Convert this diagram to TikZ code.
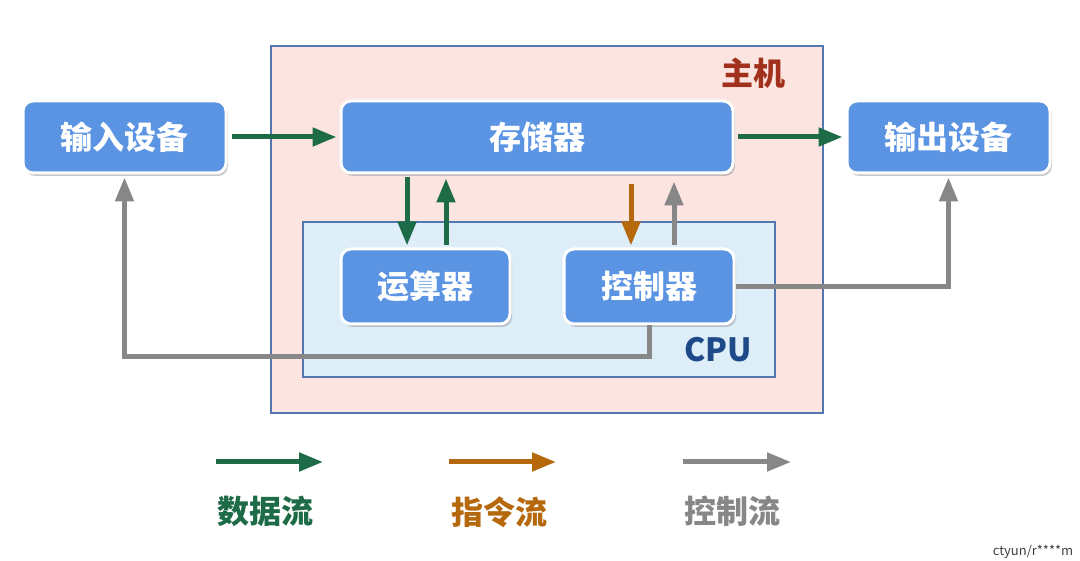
\documentclass[tikz,border=0pt]{standalone}
\usepackage{fontspec}
\newfontfamily\cjk{Noto Sans CJK SC}
\usetikzlibrary{arrows.meta,shadows}
\definecolor{boxblue}{HTML}{5B94E3}
\definecolor{hostfill}{HTML}{FCE5E0}
\definecolor{cpufill}{HTML}{DDEEF9}
\definecolor{frameline}{HTML}{5476B0}
\definecolor{dgreen}{HTML}{1D6B47}
\definecolor{dorange}{HTML}{B5680C}
\definecolor{dgray}{HTML}{878787}
\definecolor{hostred}{HTML}{A1301C}
\definecolor{cpublue}{HTML}{1F4A8A}
\tikzset{
  unitbox/.style={rectangle, rounded corners=10pt, fill=boxblue, draw=white, line width=3pt,
    drop shadow={shadow xshift=2pt, shadow yshift=-3pt, opacity=0.35, fill=black!60},
    text=white, font=\cjk\bfseries\fontsize{32}{34}\selectfont, inner sep=0pt},
  frame/.style={draw=frameline, line width=1.3pt},
  flow/.style={line width=5pt, -{Triangle[length=24pt,width=18pt]}},
  dataflow/.style={flow, draw=dgreen},
  instflow/.style={flow, draw=dorange},
  ctrlflow/.style={flow, draw=dgray},
  legendtext/.style={font=\cjk\bfseries\fontsize{32}{34}\selectfont},
}
\begin{document}
\begin{tikzpicture}[x=1pt,y=-1pt]
\useasboundingbox[fill=white] (0,0) rectangle (1080,561);
% frames
\node[frame, fill=hostfill, minimum width=552pt, minimum height=367pt, inner sep=0pt] (host) at (547,229.5) {};
\node[font=\cjk\bfseries\fontsize{32}{34}\selectfont, text=hostred] (hostlabel) at (753,73) {主机};
\node[frame, fill=cpufill, minimum width=472pt, minimum height=155pt, inner sep=0pt] (cpu) at (539,299.5) {};
\node[font=\cjk\bfseries\fontsize{32}{34}\selectfont, text=cpublue] (cpulabel) at (718,350) {CPU};
% units
\node[unitbox, minimum width=203pt, minimum height=72pt] (in) at (124.5,137) {输入设备};
\node[unitbox, minimum width=392pt, minimum height=72pt] (mem) at (537,137) {存储器};
\node[unitbox, minimum width=203pt, minimum height=72pt] (out) at (948.5,137) {输出设备};
\node[unitbox, minimum width=169pt, minimum height=75pt] (alu) at (425.5,286.5) {运算器};
\node[unitbox, minimum width=170pt, minimum height=75pt] (ctl) at (649,286.5) {控制器};
% helper coordinates
\coordinate (xa) at (407,0);
\coordinate (xb) at (446,0);
\coordinate (xc) at (631,0);
\coordinate (xd) at (674,0);
\coordinate (lowy) at (0,357);
% data flows
\draw[dataflow, shorten <=4pt, shorten >=3pt] (in.east) -- (mem.west);
\draw[dataflow, shorten <=3pt, shorten >=3pt] (mem.east) -- (out.west);
\draw[dataflow, shorten <=3pt, shorten >=2pt] (mem.south -| xa) -- (alu.north -| xa);
\draw[dataflow, shorten <=2pt, shorten >=4pt] (alu.north -| xb) -- (mem.south -| xb);
% instruction flow
\draw[instflow, shorten <=10pt, shorten >=2pt] (mem.south -| xc) -- (ctl.north -| xc);
% control flows
\draw[ctrlflow, shorten <=2pt, shorten >=7pt] (ctl.north -| xd) -- (mem.south -| xd);
\draw[ctrlflow, shorten >=3pt] (ctl.south) -- (ctl.south |- lowy) -| (in.south);
\draw[ctrlflow, shorten >=3pt] (ctl.east) -| (out.south);
% legend
\coordinate (la) at (216,462); \coordinate (lb) at (323,462);
\coordinate (lc) at (449,462); \coordinate (ld) at (556,462);
\coordinate (le) at (683,462); \coordinate (lf) at (791,462);
\draw[line width=5pt, draw=dgreen, -{Triangle[length=24pt,width=18pt]}] (la) -- (lb);
\draw[line width=5pt, draw=dorange, -{Triangle[length=24pt,width=18pt]}] (lc) -- (ld);
\draw[line width=5pt, draw=dgray, -{Triangle[length=24pt,width=18pt]}] (le) -- (lf);
\node[legendtext, text=dgreen] (t1) at (265,511) {数据流};
\node[legendtext, text=dorange] (t2) at (499,512) {指令流};
\node[legendtext, text=dgray] (t3) at (732,511) {控制流};
\node[font=\cjk\fontsize{13}{15}\selectfont, text=black!75] (wm) at (1033,552) {ctyun/r****m};
\end{tikzpicture}
\end{document}
